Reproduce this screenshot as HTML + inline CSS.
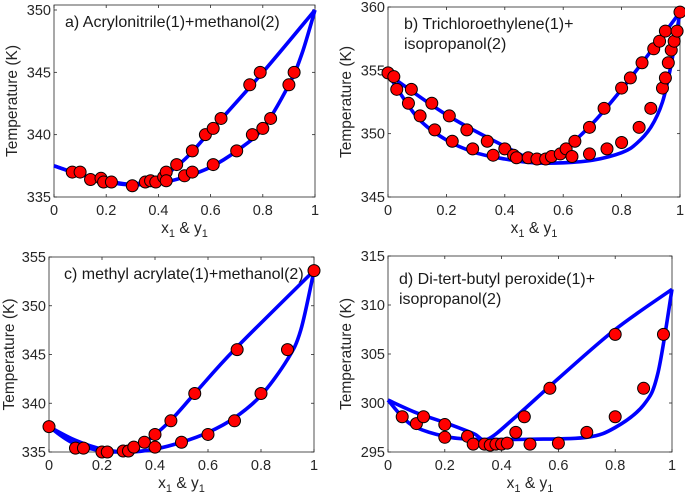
<!DOCTYPE html>
<html><head><meta charset="utf-8"><style>
body{margin:0;background:#fff}
svg{display:block;font-family:"Liberation Sans",Arial,sans-serif}
</style></head><body>
<svg id="chart" width="685" height="504" viewBox="0 0 685 504"></svg>
<script>
// ---- data ----
const xTicks=[0,0.2,0.4,0.6,0.8,1];
const xTickLabels=["0","0.2","0.4","0.6","0.8","1"];
// panel a
const aYTicks=[335,340,345,350];
const aUpperX=[0,0.1,0.2,0.28,0.4,0.5,0.6,0.8,1];
const aUpperT=[337.5,336.8,336.3,336.0,336.5,338.0,340.3,345.0,350.0];
const aLowerX=[0,0.1,0.2,0.3,0.4,0.5,0.6,0.7,0.8,0.9,0.95,1];
const aLowerT=[337.5,336.8,336.3,336.0,336.1,336.6,337.4,338.7,340.5,344.0,346.5,350.0];
const aPtsX=[0.07,0.1,0.14,0.18,0.19,0.22,0.3,0.35,0.37,0.39,0.42,0.43,0.43,0.47,0.5,0.53,0.53,0.58,0.61,0.61,0.64,0.7,0.75,0.76,0.79,0.8,0.83,0.9,0.92];
const aPtsT=[337,337,336.4,336.5,336.2,336.2,335.9,336.2,336.3,336.2,336.6,337,336.3,337.6,336.7,338.7,337,340,340.5,337.6,341.3,338.7,344,340,345,340.5,341.3,344,345];
// panel b
const bYTicks=[345,350,355,360];
const bUpperX=[0,0.2,0.4,0.52,0.6,0.7,0.8,0.9,1];
const bUpperT=[354.7,351.5,349.0,347.8,348.7,350.8,353.5,356.5,359.6];
const bLowerX=[0,0.1,0.2,0.3,0.4,0.5,0.6,0.7,0.8,0.85,0.9,0.94,0.97,1];
const bLowerT=[354.7,351.3,349.5,348.5,348.0,347.7,347.7,347.9,348.5,349.2,350.5,352.5,355.5,359.6];
const bPtsX=[0,0.02,0.03,0.08,0.07,0.11,0.15,0.16,0.21,0.22,0.27,0.29,0.34,0.36,0.4,0.43,0.44,0.48,0.51,0.54,0.56,0.59,0.61,0.63,0.64,0.69,0.69,0.74,0.75,0.8,0.8,0.83,0.86,0.87,0.9,0.91,0.93,0.94,0.95,0.95,0.96,0.97,0.98,0.99,1];
const bPtsT=[354.8,354.5,353.5,353.5,352.4,351.4,352.4,350.3,351.4,349.4,350.3,348.8,349.4,348.3,348.8,348.3,348.1,348.1,348,348,348.2,348.4,348.8,348.2,349.4,350.5,348.4,352,348.8,353.6,349.3,354.4,350.5,355.6,352,356.7,357.3,353.6,354.4,358.1,355.6,356.6,357.3,358.1,359.6];
// panel c
const cYTicks=[335,340,345,350,355];
const cUpperX=[0,0.1,0.25,0.35,0.45,0.55,0.7,1];
const cUpperT=[337.6,335.8,335.0,335.8,338.0,341.0,345.5,353.6];
const cLowerX=[0,0.1,0.2,0.3,0.4,0.5,0.6,0.7,0.8,0.9,0.95,1];
const cLowerT=[337.6,336.2,335.3,335.0,335.3,336.0,337.0,338.5,340.8,344.5,347.5,353.6];
const cPtsX=[0,0.1,0.13,0.2,0.22,0.28,0.3,0.32,0.36,0.4,0.4,0.46,0.5,0.55,0.6,0.7,0.71,0.8,0.9,1];
const cPtsT=[337.6,335.4,335.4,335,335,335.1,335.1,335.5,336,336.8,335.5,338.2,336,341,336.8,338.2,345.5,341,345.5,353.6];
// panel d
const dYTicks=[295,300,305,310,315];
const dUpperX=[0,0.1,0.2,0.3,0.35,0.45,0.6,0.8,1];
const dUpperT=[300.3,299.0,298.0,296.9,296.3,298.6,302.5,307.5,311.6];
const dLowerX=[0,0.05,0.1,0.2,0.3,0.5,0.7,0.8,0.9,0.95,1];
const dLowerT=[300.3,298.6,297.5,296.6,296.3,296.3,296.5,297.5,299.8,303.0,311.6];
const dPtsX=[0.05,0.1,0.125,0.2,0.2,0.28,0.3,0.34,0.36,0.38,0.4,0.42,0.45,0.48,0.5,0.57,0.6,0.7,0.8,0.8,0.9,0.97];
const dPtsT=[298.6,297.9,298.6,297.8,296.5,296.6,295.8,295.8,295.7,295.8,295.8,295.9,297,298.6,295.8,301.5,295.9,297,307,298.6,301.5,307];

const NS="http://www.w3.org/2000/svg";
const svg=document.getElementById('chart');
function mk(tag,attrs,parent){const e=document.createElementNS(NS,tag);for(const k in attrs)e.setAttribute(k,attrs[k]);(parent||svg).appendChild(e);return e;}

function smoothPath(pts){
  let d="M"+pts[0][0]+","+pts[0][1];
  for(let i=0;i<pts.length-1;i++){
    const p0=pts[Math.max(0,i-1)],p1=pts[i],p2=pts[i+1],p3=pts[Math.min(pts.length-1,i+2)];
    const c1=[p1[0]+(p2[0]-p0[0])/6,p1[1]+(p2[1]-p0[1])/6];
    const c2=[p2[0]-(p3[0]-p1[0])/6,p2[1]-(p3[1]-p1[1])/6];
    d+=" C"+c1[0]+","+c1[1]+" "+c2[0]+","+c2[1]+" "+p2[0]+","+p2[1];
  }
  return d;
}

function panel(id,box,ymin,ymax,yTicks,titleLines,upX,upT,loX,loT,pX,pT){
  const g=mk('g',{});
  
  
  const X=v=>box.x0+(box.x1-box.x0)*v;
  const Y=v=>box.y1-(box.y1-box.y0)*(v-ymin)/(ymax-ymin);
  const clipId='clip'+id;
  const cp=mk('clipPath',{id:clipId},g);
  mk('rect',{x:box.x0-2,y:box.top-2,width:box.x1-box.x0+4,height:box.y1-box.top+4},cp);
  xTicks.forEach((t,i)=>{
    const x=X(t);
    const tk=mk('line',{x1:x,y1:box.y1,x2:x,y2:box.y1-3,stroke:'#262626','stroke-width':0.8},g);
    
    
    mk('line',{x1:x,y1:box.top,x2:x,y2:box.top+3,stroke:'#262626','stroke-width':0.8},g);
    const tl=mk('text',{x:x,y:box.y1+18,'text-anchor':'middle','font-size':14.5,fill:'#262626'},g);
    tl.textContent=xTickLabels[i];
    
    
  });
  yTicks.forEach(t=>{
    const y=Y(t);
    mk('line',{x1:box.x0,y1:y,x2:box.x0+3,y2:y,stroke:'#262626','stroke-width':0.8},g);
    mk('line',{x1:box.x1,y1:y,x2:box.x1-3,y2:y,stroke:'#262626','stroke-width':0.8},g);
    const tl=mk('text',{x:box.x0-3,y:y+5,'text-anchor':'end','font-size':14.5,fill:'#262626'},g);
    tl.textContent=String(t);
    
    
  });
  const fr=mk('rect',{x:box.x0,y:box.top,width:box.x1-box.x0,height:box.y1-box.top,fill:'none',stroke:'#262626','stroke-width':0.8},g);
  
  
  const cg=mk('g',{'clip-path':'url(#'+clipId+')'},g);
  [[upX,upT,'dew-curve'],[loX,loT,'bubble-curve']].forEach(([xs,ts,nm])=>{
    const p=mk('path',{d:smoothPath(xs.map((v,i)=>[X(v),Y(ts[i])])),fill:'none',stroke:'#0000ff','stroke-width':3.6,'stroke-linejoin':'round'},cg);
    
    
  });
  pX.forEach((v,i)=>{
    const c=mk('circle',{cx:X(v),cy:Y(pT[i]),r:6,fill:'#ff0000',stroke:'#000','stroke-width':1},g);
    
    
  });
  titleLines.forEach((s,i)=>{
    const t=mk('text',{x:box.tx,y:box.ty+i*20,'font-size':16,fill:'#1a1a1a'},g);
    t.textContent=s;
    
    
  });
  const xl=mk('text',{x:(box.x0+box.x1)/2,y:box.y1+36,'text-anchor':'middle','font-size':15.5,fill:'#262626'},g);
  xl.innerHTML='x<tspan font-size="11" dy="4">1</tspan><tspan dy="-4"> &amp; y</tspan><tspan font-size="11" dy="4">1</tspan>';
  
  
  const cy=(box.top+box.y1)/2;
  const yl=mk('text',{x:box.ylx,y:cy,'text-anchor':'middle','font-size':15.5,fill:'#262626',transform:'rotate(-90 '+box.ylx+' '+cy+')'},g);
  yl.textContent='Temperature (K)';
  
  
}

panel('a',{x0:54,x1:315,top:5,y0:10,y1:197,tx:65,ty:27,ylx:17},335,350,aYTicks,["a) Acrylonitrile(1)+methanol(2)"],aUpperX,aUpperT,aLowerX,aLowerT,aPtsX,aPtsT);
panel('b',{x0:388,x1:680,top:7,y0:7,y1:197,tx:404,ty:29,ylx:351},345,360,bYTicks,["b) Trichloroethylene(1)+","isopropanol(2)"],bUpperX,bUpperT,bLowerX,bLowerT,bPtsX,bPtsT);
panel('c',{x0:49,x1:314,top:257,y0:257,y1:452,tx:64,ty:279,ylx:14},335,355,cYTicks,["c) methyl acrylate(1)+methanol(2)"],cUpperX,cUpperT,cLowerX,cLowerT,cPtsX,cPtsT);
panel('d',{x0:388,x1:672,top:256,y0:256,y1:452,tx:399,ty:284,ylx:351},295,315,dYTicks,["d) Di-tert-butyl peroxide(1)+","isopropanol(2)"],dUpperX,dUpperT,dLowerX,dLowerT,dPtsX,dPtsT);
</script>
</body></html>
